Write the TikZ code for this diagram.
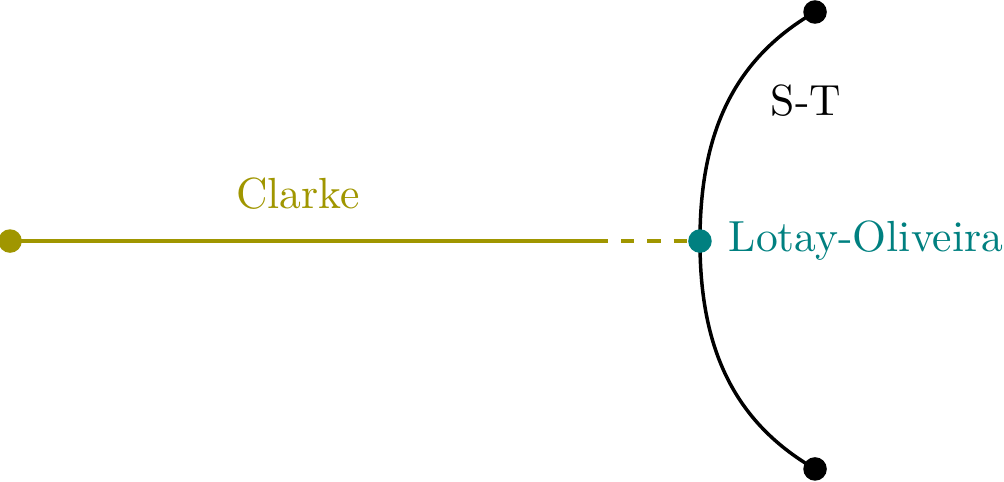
\documentclass[tikz,border=0pt]{standalone}
\usetikzlibrary{backgrounds}
\definecolor{clarkecol}{RGB}{160,150,0}
\tikzset{
  dot/.style={circle, fill, inner sep=0pt, minimum size=0.19cm},
  curve/.style={thick},
}
\begin{document}
\begin{tikzpicture}[thick]
				\useasboundingbox (0,0) rectangle (8.097,3.887);
				% 1. points
				\node[dot, clarkecol] (C) at (0.081,1.943) {};
				\node[dot, teal] (LO) at (5.645,1.943) {};
				\node[dot] (top) at (6.573,3.79) {};
				\node[dot] (bot) at (6.573,0.105) {};
				\coordinate (cut) at (4.80,1.943);
				
				% 2. curves
				\begin{pgfonlayer}{background}
					\draw[curve] (top.center) to[out=210, in=90] (LO.center) to[out=-90, in=150] (bot.center);
					\draw[curve, clarkecol] (C.center) -- (cut);
					\draw[curve, clarkecol, dashed] (cut) -- (LO.center);
				\end{pgfonlayer}
				
				% 3. labels
				\node[clarkecol] (lc) at (2.403,2.323) {Clarke};
				\node (lst) at (6.50,3.072) {S-T};
				\node[teal, right] (llo) at (LO.east) {Lotay-Oliveira};
\end{tikzpicture}
\end{document}
